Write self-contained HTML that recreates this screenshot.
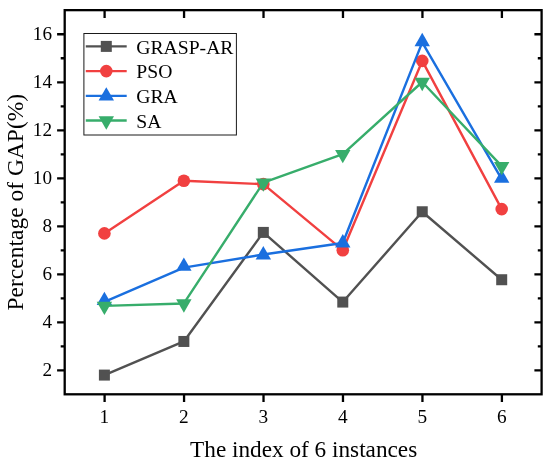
<!DOCTYPE html>
<html><head><meta charset="utf-8"><title>Percentage of GAP</title>
<style>html,body{margin:0;padding:0;background:#fff}body{width:550px;height:464px;overflow:hidden}</style>
</head><body>
<svg width="550" height="464" viewBox="0 0 550 464" style="display:block">
<rect width="550" height="464" fill="#fff"/>
<polyline points="104.40,375.09 183.86,341.46 263.32,232.41 342.78,302.07 422.24,211.76 501.70,279.73" fill="none" stroke="#515151" stroke-width="2.4" stroke-linejoin="round"/>
<rect x="98.90" y="369.59" width="11.0" height="11.0" fill="#515151"/>
<rect x="178.36" y="335.96" width="11.0" height="11.0" fill="#515151"/>
<rect x="257.82" y="226.91" width="11.0" height="11.0" fill="#515151"/>
<rect x="337.28" y="296.57" width="11.0" height="11.0" fill="#515151"/>
<rect x="416.74" y="206.26" width="11.0" height="11.0" fill="#515151"/>
<rect x="496.20" y="274.23" width="11.0" height="11.0" fill="#515151"/>
<polyline points="104.40,233.38 183.86,180.77 263.32,184.14 342.78,250.19 422.24,60.92 501.70,209.12" fill="none" stroke="#F14040" stroke-width="2.4" stroke-linejoin="round"/>
<circle cx="104.40" cy="233.38" r="6.3" fill="#F14040"/>
<circle cx="183.86" cy="180.77" r="6.3" fill="#F14040"/>
<circle cx="263.32" cy="184.14" r="6.3" fill="#F14040"/>
<circle cx="342.78" cy="250.19" r="6.3" fill="#F14040"/>
<circle cx="422.24" cy="60.92" r="6.3" fill="#F14040"/>
<circle cx="501.70" cy="209.12" r="6.3" fill="#F14040"/>
<polyline points="104.40,301.90 183.86,267.60 263.32,254.50 342.78,243.00 422.24,42.41 501.70,179.07" fill="none" stroke="#1A6FDF" stroke-width="2.4" stroke-linejoin="round"/>
<polygon points="104.40,291.74 96.70,305.07 112.10,305.07" fill="#1A6FDF"/>
<polygon points="183.86,257.39 176.16,270.73 191.56,270.73" fill="#1A6FDF"/>
<polygon points="263.32,246.10 255.62,259.44 271.02,259.44" fill="#1A6FDF"/>
<polygon points="342.78,234.09 335.08,247.43 350.48,247.43" fill="#1A6FDF"/>
<polygon points="422.24,32.81 414.54,46.15 429.94,46.15" fill="#1A6FDF"/>
<polygon points="501.70,169.48 494.00,182.82 509.40,182.82" fill="#1A6FDF"/>
<polyline points="104.40,305.85 183.86,303.45 263.32,182.64 342.78,154.05 422.24,82.00 501.70,166.06" fill="none" stroke="#37AD6B" stroke-width="2.4" stroke-linejoin="round"/>
<polygon points="104.40,315.04 96.70,301.71 112.10,301.71" fill="#37AD6B"/>
<polygon points="183.86,312.64 176.16,299.30 191.56,299.30" fill="#37AD6B"/>
<polygon points="263.32,191.83 255.62,178.49 271.02,178.49" fill="#37AD6B"/>
<polygon points="342.78,163.25 335.08,149.91 350.48,149.91" fill="#37AD6B"/>
<polygon points="422.24,91.19 414.54,77.85 429.94,77.85" fill="#37AD6B"/>
<polygon points="501.70,175.25 494.00,161.92 509.40,161.92" fill="#37AD6B"/>
<rect x="64.7" y="10.15" width="476.90" height="384.15" fill="none" stroke="#000" stroke-width="2.3"/>
<path d="M57.10 370.47H64.7M534.40 370.47H541.6M60.70 346.45H64.7M537.80 346.45H541.6M57.10 322.44H64.7M534.40 322.44H541.6M60.70 298.43H64.7M537.80 298.43H541.6M57.10 274.41H64.7M534.40 274.41H541.6M60.70 250.39H64.7M537.80 250.39H541.6M57.10 226.38H64.7M534.40 226.38H541.6M60.70 202.37H64.7M537.80 202.37H541.6M57.10 178.35H64.7M534.40 178.35H541.6M60.70 154.33H64.7M537.80 154.33H541.6M57.10 130.32H64.7M534.40 130.32H541.6M60.70 106.31H64.7M537.80 106.31H541.6M57.10 82.29H64.7M534.40 82.29H541.6M60.70 58.27H64.7M537.80 58.27H541.6M57.10 34.26H64.7M534.40 34.26H541.6M104.60 394.3V401.90M104.60 10.15V17.95M184.06 394.3V401.90M184.06 10.15V17.95M263.52 394.3V401.90M263.52 10.15V17.95M342.98 394.3V401.90M342.98 10.15V17.95M422.44 394.3V401.90M422.44 10.15V17.95M501.90 394.3V401.90M501.90 10.15V17.95" stroke="#000" stroke-width="2.3" fill="none"/>
<g font-family="'Liberation Serif', 'Times New Roman', serif" fill="#000">
<g font-size="19.2" text-anchor="end">
<text x="52.0" y="375.82">2</text>
<text x="52.0" y="327.79">4</text>
<text x="52.0" y="279.76">6</text>
<text x="52.0" y="231.73">8</text>
<text x="52.0" y="183.70">10</text>
<text x="52.0" y="135.67">12</text>
<text x="52.0" y="87.64">14</text>
<text x="52.0" y="39.61">16</text>
</g>
<g font-size="19.3" text-anchor="middle">
<text x="104.40" y="422.5">1</text>
<text x="183.86" y="422.5">2</text>
<text x="263.32" y="422.5">3</text>
<text x="342.78" y="422.5">4</text>
<text x="422.24" y="422.5">5</text>
<text x="501.70" y="422.5">6</text>
</g>
<text x="303.65" y="457.0" font-size="23.24" text-anchor="middle">The index of 6 instances</text>
<text transform="translate(23.3 202.2) rotate(-90)" font-size="23.5" text-anchor="middle">Percentage of GAP(%)</text>
<rect x="83.9" y="33.5" width="152.5" height="101.5" fill="#fff" stroke="#1a1a1a" stroke-width="1"/>
<line x1="85.8" x2="126.7" y1="46.4" y2="46.4" stroke="#515151" stroke-width="2.4"/>
<rect x="100.80" y="40.90" width="11.0" height="11.0" fill="#515151"/>
<text x="136.3" y="53.60" font-size="19.65">GRASP-AR</text>
<line x1="85.8" x2="126.7" y1="71.1" y2="71.1" stroke="#F14040" stroke-width="2.4"/>
<circle cx="106.30" cy="71.10" r="6.3" fill="#F14040"/>
<text x="136.3" y="78.35" font-size="19.65">PSO</text>
<line x1="85.8" x2="126.7" y1="95.9" y2="95.9" stroke="#1A6FDF" stroke-width="2.4"/>
<polygon points="106.30,87.21 98.60,100.55 114.00,100.55" fill="#1A6FDF"/>
<text x="136.3" y="102.95" font-size="19.65">GRA</text>
<line x1="85.8" x2="126.7" y1="120.45" y2="120.45" stroke="#37AD6B" stroke-width="2.4"/>
<polygon points="106.30,129.64 98.60,116.30 114.00,116.30" fill="#37AD6B"/>
<text x="136.3" y="127.60" font-size="19.65">SA</text>
</g>
</svg>
</body></html>
